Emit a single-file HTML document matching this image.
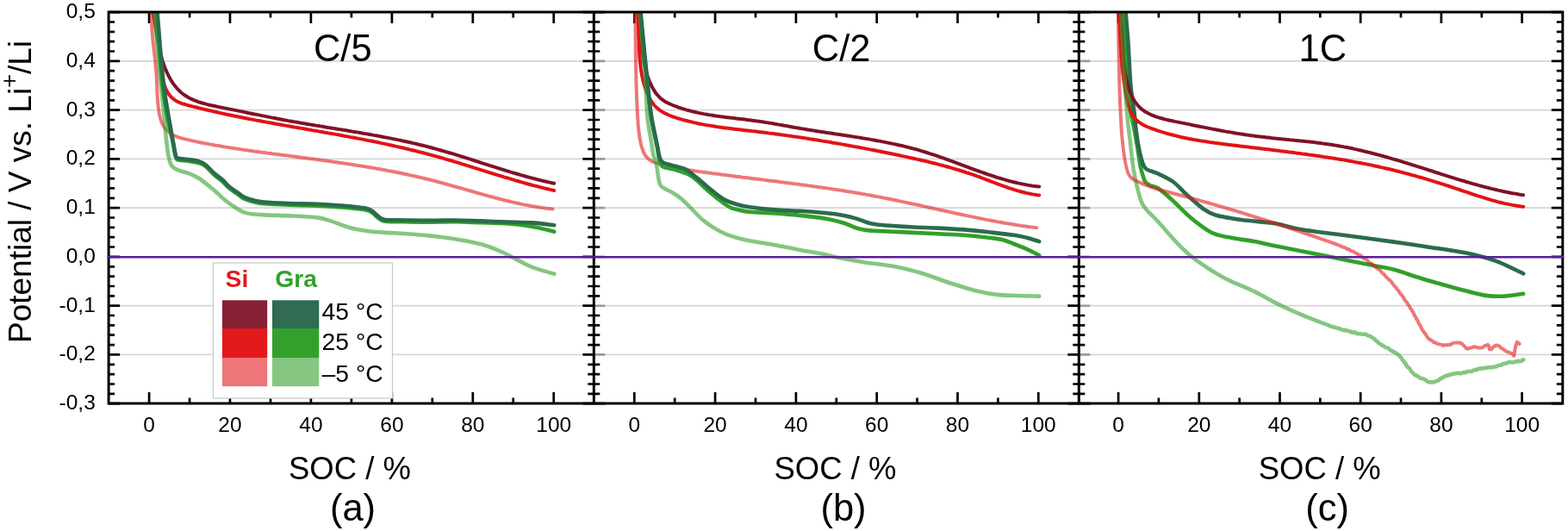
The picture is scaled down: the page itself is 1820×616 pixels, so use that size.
<!DOCTYPE html><html><head><meta charset="utf-8"><style>html,body{margin:0;padding:0;background:#fff;}svg{display:block;}text{font-family:"Liberation Sans",Arial,sans-serif;}</style></head><body>
<svg width="1820" height="616" viewBox="0 0 1820 616">
<rect width="1820" height="616" fill="#fff"/>
<path d="M126.1,70.9H1813.8M126.1,127.6H1813.8M126.1,184.4H1813.8M126.1,241.1H1813.8M126.1,354.7H1813.8M126.1,411.4H1813.8" stroke="#d6d6d6" stroke-width="1.8" fill="none"/>
<path d="M690.3,70.9h12.0M690.3,127.6h12.0M690.3,184.4h12.0M690.3,241.1h12.0M690.3,297.9h12.0M690.3,354.7h12.0M690.3,411.4h12.0M1253.3,70.9h12.0M1253.3,127.6h12.0M1253.3,184.4h12.0M1253.3,241.1h12.0M1253.3,297.9h12.0M1253.3,354.7h12.0M1253.3,411.4h12.0" stroke="#9a9a9a" stroke-width="2.6" fill="none"/>
<path d="M126.1,14.1h13.0M126.1,25.5h7.0M126.1,36.8h7.0M126.1,48.2h7.0M126.1,59.5h7.0M126.1,70.9h13.0M126.1,82.2h7.0M126.1,93.6h7.0M126.1,104.9h7.0M126.1,116.3h7.0M126.1,127.6h13.0M126.1,139.0h7.0M126.1,150.3h7.0M126.1,161.7h7.0M126.1,173.0h7.0M126.1,184.4h13.0M126.1,195.7h7.0M126.1,207.1h7.0M126.1,218.4h7.0M126.1,229.8h7.0M126.1,241.1h13.0M126.1,252.5h7.0M126.1,263.8h7.0M126.1,275.2h7.0M126.1,286.5h7.0M126.1,297.9h13.0M126.1,309.3h7.0M126.1,320.6h7.0M126.1,332.0h7.0M126.1,343.3h7.0M126.1,354.7h13.0M126.1,366.0h7.0M126.1,377.4h7.0M126.1,388.7h7.0M126.1,400.1h7.0M126.1,411.4h13.0M126.1,422.8h7.0M126.1,434.1h7.0M126.1,445.5h7.0M126.1,456.8h7.0M126.1,468.2h13.0M689.3,14.1h13.0M689.3,14.1h-13.0M689.3,25.5h7.0M689.3,25.5h-7.0M689.3,36.8h7.0M689.3,36.8h-7.0M689.3,48.2h7.0M689.3,48.2h-7.0M689.3,59.5h7.0M689.3,59.5h-7.0M689.3,70.9h-13.0M689.3,82.2h7.0M689.3,82.2h-7.0M689.3,93.6h7.0M689.3,93.6h-7.0M689.3,104.9h7.0M689.3,104.9h-7.0M689.3,116.3h7.0M689.3,116.3h-7.0M689.3,127.6h-13.0M689.3,139.0h7.0M689.3,139.0h-7.0M689.3,150.3h7.0M689.3,150.3h-7.0M689.3,161.7h7.0M689.3,161.7h-7.0M689.3,173.0h7.0M689.3,173.0h-7.0M689.3,184.4h-13.0M689.3,195.7h7.0M689.3,195.7h-7.0M689.3,207.1h7.0M689.3,207.1h-7.0M689.3,218.4h7.0M689.3,218.4h-7.0M689.3,229.8h7.0M689.3,229.8h-7.0M689.3,241.1h-13.0M689.3,252.5h7.0M689.3,252.5h-7.0M689.3,263.8h7.0M689.3,263.8h-7.0M689.3,275.2h7.0M689.3,275.2h-7.0M689.3,286.5h7.0M689.3,286.5h-7.0M689.3,297.9h-13.0M689.3,309.3h7.0M689.3,309.3h-7.0M689.3,320.6h7.0M689.3,320.6h-7.0M689.3,332.0h7.0M689.3,332.0h-7.0M689.3,343.3h7.0M689.3,343.3h-7.0M689.3,354.7h-13.0M689.3,366.0h7.0M689.3,366.0h-7.0M689.3,377.4h7.0M689.3,377.4h-7.0M689.3,388.7h7.0M689.3,388.7h-7.0M689.3,400.1h7.0M689.3,400.1h-7.0M689.3,411.4h-13.0M689.3,422.8h7.0M689.3,422.8h-7.0M689.3,434.1h7.0M689.3,434.1h-7.0M689.3,445.5h7.0M689.3,445.5h-7.0M689.3,456.8h7.0M689.3,456.8h-7.0M689.3,468.2h13.0M689.3,468.2h-13.0M1252.3,14.1h13.0M1252.3,14.1h-13.0M1252.3,25.5h7.0M1252.3,25.5h-7.0M1252.3,36.8h7.0M1252.3,36.8h-7.0M1252.3,48.2h7.0M1252.3,48.2h-7.0M1252.3,59.5h7.0M1252.3,59.5h-7.0M1252.3,70.9h-13.0M1252.3,82.2h7.0M1252.3,82.2h-7.0M1252.3,93.6h7.0M1252.3,93.6h-7.0M1252.3,104.9h7.0M1252.3,104.9h-7.0M1252.3,116.3h7.0M1252.3,116.3h-7.0M1252.3,127.6h-13.0M1252.3,139.0h7.0M1252.3,139.0h-7.0M1252.3,150.3h7.0M1252.3,150.3h-7.0M1252.3,161.7h7.0M1252.3,161.7h-7.0M1252.3,173.0h7.0M1252.3,173.0h-7.0M1252.3,184.4h-13.0M1252.3,195.7h7.0M1252.3,195.7h-7.0M1252.3,207.1h7.0M1252.3,207.1h-7.0M1252.3,218.4h7.0M1252.3,218.4h-7.0M1252.3,229.8h7.0M1252.3,229.8h-7.0M1252.3,241.1h-13.0M1252.3,252.5h7.0M1252.3,252.5h-7.0M1252.3,263.8h7.0M1252.3,263.8h-7.0M1252.3,275.2h7.0M1252.3,275.2h-7.0M1252.3,286.5h7.0M1252.3,286.5h-7.0M1252.3,297.9h-13.0M1252.3,309.3h7.0M1252.3,309.3h-7.0M1252.3,320.6h7.0M1252.3,320.6h-7.0M1252.3,332.0h7.0M1252.3,332.0h-7.0M1252.3,343.3h7.0M1252.3,343.3h-7.0M1252.3,354.7h-13.0M1252.3,366.0h7.0M1252.3,366.0h-7.0M1252.3,377.4h7.0M1252.3,377.4h-7.0M1252.3,388.7h7.0M1252.3,388.7h-7.0M1252.3,400.1h7.0M1252.3,400.1h-7.0M1252.3,411.4h-13.0M1252.3,422.8h7.0M1252.3,422.8h-7.0M1252.3,434.1h7.0M1252.3,434.1h-7.0M1252.3,445.5h7.0M1252.3,445.5h-7.0M1252.3,456.8h7.0M1252.3,456.8h-7.0M1252.3,468.2h13.0M1252.3,468.2h-13.0M1813.8,14.1h-13.0M1813.8,25.5h-7.0M1813.8,36.8h-7.0M1813.8,48.2h-7.0M1813.8,59.5h-7.0M1813.8,70.9h-13.0M1813.8,82.2h-7.0M1813.8,93.6h-7.0M1813.8,104.9h-7.0M1813.8,116.3h-7.0M1813.8,127.6h-13.0M1813.8,139.0h-7.0M1813.8,150.3h-7.0M1813.8,161.7h-7.0M1813.8,173.0h-7.0M1813.8,184.4h-13.0M1813.8,195.7h-7.0M1813.8,207.1h-7.0M1813.8,218.4h-7.0M1813.8,229.8h-7.0M1813.8,241.1h-13.0M1813.8,252.5h-7.0M1813.8,263.8h-7.0M1813.8,275.2h-7.0M1813.8,286.5h-7.0M1813.8,297.9h-13.0M1813.8,309.3h-7.0M1813.8,320.6h-7.0M1813.8,332.0h-7.0M1813.8,343.3h-7.0M1813.8,354.7h-13.0M1813.8,366.0h-7.0M1813.8,377.4h-7.0M1813.8,388.7h-7.0M1813.8,400.1h-7.0M1813.8,411.4h-13.0M1813.8,422.8h-7.0M1813.8,434.1h-7.0M1813.8,445.5h-7.0M1813.8,456.8h-7.0M1813.8,468.2h-13.0M173.1,14.1v13.0M173.1,468.1v-13.0M220.1,14.1v6.5M220.1,468.1v-6.5M267.0,14.1v13.0M267.0,468.1v-13.0M314.0,14.1v6.5M314.0,468.1v-6.5M360.9,14.1v13.0M360.9,468.1v-13.0M407.9,14.1v6.5M407.9,468.1v-6.5M454.9,14.1v13.0M454.9,468.1v-13.0M501.8,14.1v6.5M501.8,468.1v-6.5M548.8,14.1v13.0M548.8,468.1v-13.0M595.7,14.1v6.5M595.7,468.1v-6.5M642.7,14.1v13.0M642.7,468.1v-13.0M736.3,14.1v13.0M736.3,468.1v-13.0M783.2,14.1v6.5M783.2,468.1v-6.5M830.1,14.1v13.0M830.1,468.1v-13.0M877.0,14.1v6.5M877.0,468.1v-6.5M923.9,14.1v13.0M923.9,468.1v-13.0M970.8,14.1v6.5M970.8,468.1v-6.5M1017.7,14.1v13.0M1017.7,468.1v-13.0M1064.6,14.1v6.5M1064.6,468.1v-6.5M1111.5,14.1v13.0M1111.5,468.1v-13.0M1158.4,14.1v6.5M1158.4,468.1v-6.5M1205.3,14.1v13.0M1205.3,468.1v-13.0M1298.1,14.1v13.0M1298.1,468.1v-13.0M1344.9,14.1v6.5M1344.9,468.1v-6.5M1391.8,14.1v13.0M1391.8,468.1v-13.0M1438.6,14.1v6.5M1438.6,468.1v-6.5M1485.5,14.1v13.0M1485.5,468.1v-13.0M1532.3,14.1v6.5M1532.3,468.1v-6.5M1579.2,14.1v13.0M1579.2,468.1v-13.0M1626.0,14.1v6.5M1626.0,468.1v-6.5M1672.9,14.1v13.0M1672.9,468.1v-13.0M1719.8,14.1v6.5M1719.8,468.1v-6.5M1766.6,14.1v13.0M1766.6,468.1v-13.0" stroke="#000" stroke-width="2.7" fill="none"/>
<defs>
<clipPath id="c0"><rect x="126.1" y="14.1" width="563.2" height="454.0"/></clipPath>
<clipPath id="c1"><rect x="689.3" y="14.1" width="563.0" height="454.0"/></clipPath>
<clipPath id="c2"><rect x="1252.3" y="14.1" width="561.5" height="454.0"/></clipPath>
</defs>
<g clip-path="url(#c0)">
<path d="M177.5,13.2L178.0,15.5L178.4,17.9L178.8,20.3L179.2,22.7L179.6,25.1L180.0,27.6L180.4,30.0L180.8,32.5L181.2,35.0L181.6,37.5L182.0,40.0L182.4,42.5L182.8,45.0L183.3,47.5L183.7,50.0L184.2,52.6L184.7,55.1L185.3,57.6L185.8,60.1L186.4,62.6L187.1,65.1L187.8,67.6L188.5,70.0L189.3,72.5L190.1,74.9L191.0,77.4L191.9,79.8L192.9,82.1L194.0,84.5L195.1,86.8L196.2,89.1L197.5,91.3L198.7,93.4L200.1,95.6L201.5,97.6L203.0,99.6L204.5,101.5L206.2,103.3L207.9,105.0L209.6,106.7L211.4,108.2L213.3,109.7L215.3,111.0L217.3,112.3L219.4,113.5L221.6,114.6L223.8,115.6L226.1,116.6L228.4,117.4L230.7,118.3L233.1,119.0L235.5,119.8L237.9,120.4L240.4,121.1L242.9,121.7L245.4,122.3L247.9,122.8L250.4,123.3L253.0,123.9L255.5,124.4L258.0,124.9L260.6,125.4L263.1,125.9L265.6,126.4L268.1,126.9L270.6,127.4L273.1,127.9L275.6,128.4L278.1,128.9L280.6,129.4L283.0,129.9L285.5,130.4L288.0,131.0L290.5,131.5L292.9,132.0L295.4,132.5L297.9,132.9L300.3,133.4L302.8,133.9L305.2,134.4L307.7,134.9L310.2,135.4L312.6,135.9L315.1,136.4L317.5,136.8L320.0,137.3L322.4,137.8L324.9,138.2L327.4,138.7L329.8,139.2L332.3,139.6L334.7,140.1L337.2,140.5L339.7,141.0L342.1,141.4L344.6,141.8L347.1,142.3L349.6,142.7L352.0,143.1L354.5,143.5L357.0,144.0L359.5,144.4L361.9,144.8L364.4,145.2L366.9,145.6L369.4,146.0L371.9,146.4L374.4,146.8L376.9,147.3L379.3,147.7L381.8,148.1L384.3,148.5L386.8,148.9L389.3,149.3L391.8,149.7L394.3,150.1L396.8,150.5L399.3,150.9L401.8,151.3L404.3,151.7L406.7,152.1L409.2,152.6L411.7,153.0L414.2,153.4L416.7,153.8L419.2,154.2L421.7,154.7L424.2,155.1L426.7,155.5L429.2,156.0L431.6,156.4L434.1,156.9L436.6,157.3L439.1,157.8L441.6,158.2L444.1,158.7L446.5,159.2L449.0,159.6L451.5,160.1L454.0,160.6L456.4,161.1L458.9,161.6L461.4,162.1L463.9,162.6L466.3,163.1L468.8,163.7L471.3,164.2L473.7,164.8L476.2,165.3L478.6,165.9L481.1,166.4L483.5,167.0L486.0,167.6L488.4,168.2L490.9,168.8L493.3,169.4L495.8,170.0L498.2,170.7L500.6,171.3L503.1,172.0L505.5,172.6L507.9,173.3L510.3,174.0L512.8,174.7L515.2,175.4L517.6,176.1L520.0,176.8L522.4,177.5L524.8,178.2L527.2,178.9L529.6,179.7L532.0,180.4L534.4,181.2L536.9,181.9L539.3,182.7L541.7,183.4L544.1,184.2L546.4,184.9L548.8,185.7L551.2,186.5L553.6,187.2L556.0,188.0L558.4,188.8L560.8,189.6L563.2,190.3L565.6,191.1L568.0,191.9L570.4,192.6L572.8,193.4L575.2,194.1L577.6,194.9L580.0,195.7L582.4,196.4L584.8,197.1L587.2,197.9L589.6,198.6L592.0,199.4L594.5,200.1L596.9,200.8L599.3,201.5L601.7,202.2L604.1,202.9L606.5,203.6L609.0,204.3L611.4,205.0L613.8,205.6L616.2,206.3L618.7,206.9L621.1,207.5L623.5,208.2L626.0,208.8L628.4,209.4L630.9,210.0L633.3,210.5L635.8,211.1L638.3,211.6L640.7,212.2L643.2,212.7" stroke="#801228" stroke-width="4.0" fill="none" stroke-linejoin="round" stroke-linecap="round"/>
<path d="M178.0,13.0L178.5,15.6L179.0,18.2L179.4,20.8L179.9,23.3L180.3,25.8L180.7,28.3L181.1,30.7L181.5,33.2L181.8,35.6L182.2,38.0L182.5,40.5L182.9,42.9L183.2,45.3L183.5,47.7L183.8,50.1L184.1,52.5L184.4,54.9L184.7,57.4L185.0,59.8L185.2,62.3L185.5,64.7L185.8,67.2L186.1,69.7L186.4,72.3L186.7,74.8L187.0,77.4L187.4,80.1L187.7,82.7L188.1,85.4L188.5,88.1L188.9,90.7L189.4,93.4L190.0,95.9L190.7,98.5L191.6,100.9L192.5,103.2L193.6,105.5L194.8,107.6L196.2,109.6L197.7,111.4L199.3,113.1L201.1,114.7L203.0,116.1L205.0,117.4L207.2,118.5L209.4,119.4L211.8,120.3L214.2,121.0L216.6,121.7L219.1,122.3L221.5,123.0L224.0,123.6L226.4,124.2L228.9,124.8L231.3,125.4L233.8,126.0L236.2,126.6L238.7,127.2L241.2,127.8L243.6,128.3L246.1,128.9L248.6,129.5L251.0,130.0L253.5,130.6L255.9,131.1L258.4,131.6L260.9,132.2L263.3,132.7L265.8,133.2L268.3,133.7L270.7,134.2L273.2,134.7L275.7,135.2L278.1,135.7L280.6,136.2L283.1,136.7L285.6,137.2L288.0,137.7L290.5,138.2L293.0,138.6L295.5,139.1L297.9,139.6L300.4,140.0L302.9,140.5L305.4,141.0L307.8,141.4L310.3,141.9L312.8,142.3L315.3,142.8L317.7,143.2L320.2,143.7L322.7,144.1L325.2,144.5L327.7,145.0L330.1,145.4L332.6,145.9L335.1,146.3L337.6,146.7L340.1,147.2L342.5,147.6L345.0,148.0L347.5,148.5L350.0,148.9L352.5,149.3L355.0,149.8L357.4,150.2L359.9,150.6L362.4,151.1L364.9,151.5L367.4,151.9L369.9,152.4L372.4,152.8L374.8,153.2L377.3,153.7L379.8,154.1L382.3,154.6L384.8,155.0L387.3,155.4L389.7,155.9L392.2,156.3L394.7,156.8L397.2,157.2L399.7,157.7L402.1,158.1L404.6,158.6L407.1,159.1L409.6,159.5L412.1,160.0L414.5,160.5L417.0,160.9L419.5,161.4L422.0,161.9L424.4,162.4L426.9,162.9L429.4,163.3L431.9,163.8L434.3,164.3L436.8,164.8L439.3,165.3L441.7,165.9L444.2,166.4L446.7,166.9L449.1,167.4L451.6,168.0L454.1,168.5L456.5,169.0L459.0,169.6L461.4,170.1L463.9,170.7L466.3,171.2L468.8,171.8L471.2,172.4L473.7,173.0L476.1,173.6L478.6,174.2L481.0,174.8L483.5,175.4L485.9,176.0L488.4,176.6L490.8,177.2L493.2,177.9L495.7,178.5L498.1,179.1L500.5,179.8L502.9,180.5L505.4,181.1L507.8,181.8L510.2,182.5L512.6,183.2L515.1,183.9L517.5,184.6L519.9,185.3L522.3,186.0L524.7,186.7L527.1,187.5L529.5,188.2L532.0,188.9L534.4,189.6L536.8,190.4L539.2,191.1L541.6,191.9L544.0,192.6L546.4,193.4L548.8,194.1L551.2,194.8L553.6,195.6L556.0,196.3L558.4,197.1L560.8,197.8L563.2,198.6L565.6,199.3L568.0,200.1L570.4,200.8L572.8,201.6L575.2,202.3L577.7,203.1L580.1,203.8L582.5,204.5L584.9,205.3L587.3,206.0L589.7,206.7L592.1,207.4L594.5,208.1L596.9,208.9L599.3,209.6L601.8,210.3L604.2,211.0L606.6,211.6L609.0,212.3L611.4,213.0L613.9,213.7L616.3,214.3L618.7,215.0L621.2,215.6L623.6,216.2L626.0,216.9L628.5,217.5L630.9,218.1L633.4,218.7L635.8,219.3L638.2,219.9L640.7,220.4L643.1,221.0" stroke="#e31216" stroke-width="4.0" fill="none" stroke-linejoin="round" stroke-linecap="round"/>
<path d="M175.8,12.9L175.8,15.5L175.7,18.1L175.8,20.6L175.8,23.2L175.9,25.7L176.0,28.3L176.1,30.8L176.3,33.3L176.5,35.8L176.7,38.3L176.9,40.8L177.1,43.2L177.3,45.7L177.6,48.2L177.9,50.6L178.1,53.1L178.4,55.6L178.7,58.0L179.0,60.5L179.3,62.9L179.6,65.4L179.8,67.9L180.1,70.3L180.4,72.8L180.6,75.3L180.8,77.8L181.1,80.3L181.3,82.8L181.5,85.3L181.6,87.8L181.8,90.4L181.9,92.9L182.0,95.5L182.1,98.1L182.2,100.7L182.3,103.2L182.4,105.8L182.5,108.4L182.7,111.0L182.8,113.6L183.0,116.1L183.2,118.7L183.4,121.3L183.7,123.8L184.0,126.4L184.4,128.9L184.8,131.4L185.3,133.9L185.9,136.3L186.6,138.7L187.3,141.0L188.2,143.2L189.3,145.3L190.5,147.3L191.8,149.2L193.3,150.9L195.0,152.5L196.8,153.9L198.7,155.3L200.7,156.5L202.8,157.5L205.1,158.5L207.4,159.3L209.8,160.1L212.3,160.7L214.7,161.4L217.3,161.9L219.8,162.5L222.3,163.1L224.8,163.6L227.3,164.1L229.8,164.7L232.3,165.2L234.8,165.7L237.3,166.2L239.8,166.6L242.3,167.1L244.8,167.6L247.2,168.0L249.7,168.5L252.2,168.9L254.7,169.3L257.2,169.8L259.7,170.2L262.1,170.6L264.6,171.0L267.1,171.4L269.6,171.8L272.1,172.1L274.5,172.5L277.0,172.9L279.5,173.3L282.0,173.6L284.4,174.0L286.9,174.3L289.4,174.7L291.9,175.0L294.4,175.4L296.8,175.7L299.3,176.0L301.8,176.4L304.3,176.7L306.7,177.0L309.2,177.4L311.7,177.7L314.2,178.0L316.7,178.4L319.2,178.7L321.6,179.0L324.1,179.3L326.6,179.7L329.1,180.0L331.6,180.3L334.1,180.6L336.6,180.9L339.1,181.3L341.5,181.6L344.0,181.9L346.5,182.2L349.0,182.6L351.5,182.9L354.0,183.2L356.5,183.5L359.0,183.9L361.5,184.2L364.0,184.5L366.5,184.9L368.9,185.2L371.4,185.5L373.9,185.9L376.4,186.2L378.9,186.6L381.4,186.9L383.9,187.3L386.4,187.6L388.9,188.0L391.4,188.3L393.8,188.7L396.3,189.0L398.8,189.4L401.3,189.8L403.8,190.1L406.3,190.5L408.8,190.9L411.3,191.3L413.7,191.7L416.2,192.1L418.7,192.5L421.2,192.9L423.7,193.3L426.1,193.7L428.6,194.1L431.1,194.5L433.6,194.9L436.1,195.4L438.5,195.8L441.0,196.2L443.5,196.7L446.0,197.1L448.4,197.6L450.9,198.1L453.4,198.5L455.8,199.0L458.3,199.5L460.8,200.0L463.2,200.5L465.7,201.0L468.1,201.5L470.6,202.0L473.1,202.5L475.5,203.1L478.0,203.6L480.4,204.1L482.9,204.7L485.3,205.3L487.8,205.8L490.2,206.4L492.6,207.0L495.1,207.6L497.5,208.2L500.0,208.8L502.4,209.4L504.8,210.0L507.2,210.7L509.7,211.3L512.1,212.0L514.5,212.6L517.0,213.3L519.4,214.0L521.8,214.6L524.2,215.3L526.6,216.0L529.1,216.7L531.5,217.4L533.9,218.0L536.3,218.7L538.7,219.4L541.1,220.1L543.6,220.8L546.0,221.5L548.4,222.2L550.8,222.9L553.2,223.6L555.6,224.2L558.1,224.9L560.5,225.6L562.9,226.3L565.3,226.9L567.7,227.6L570.2,228.2L572.6,228.9L575.0,229.5L577.4,230.2L579.9,230.8L582.3,231.4L584.7,232.0L587.2,232.6L589.6,233.2L592.0,233.8L594.5,234.4L596.9,234.9L599.4,235.5L601.8,236.0L604.3,236.6L606.7,237.1L609.2,237.6L611.7,238.0L614.1,238.5L616.6,239.0L619.1,239.4L621.5,239.8L624.0,240.2L626.5,240.6L629.0,241.0L631.5,241.3L634.0,241.7L636.5,242.0L639.0,242.3L641.5,242.5" stroke="#e31a1c" stroke-width="4.0" fill="none" stroke-linejoin="round" stroke-linecap="round" stroke-opacity="0.60"/>
<path d="M179.6,13.0 C180.1,20.2 181.5,41.4 182.8,56.3 C184.1,71.2 185.9,89.5 187.2,102.6 C188.5,115.7 189.6,125.4 190.5,135.0 C191.4,144.6 192.1,152.8 192.8,160.0 C193.6,167.2 194.3,173.5 195.0,178.0 C195.7,182.5 196.2,184.6 197.0,187.0 C197.8,189.4 198.3,191.0 199.5,192.5 C200.7,194.0 202.2,195.0 203.9,196.0 C205.7,197.0 207.3,197.6 210.0,198.5 C212.7,199.4 216.3,200.0 219.8,201.4 C223.3,202.8 226.4,203.9 231.1,207.0 C235.8,210.1 242.5,215.6 247.7,219.9 C252.9,224.2 257.8,229.3 262.3,233.0 C266.9,236.7 271.6,239.8 275.0,242.0 C278.4,244.2 280.0,245.1 282.8,246.2 C285.6,247.2 288.1,247.8 292.0,248.3 C295.9,248.8 298.2,249.0 306.2,249.4 C314.2,249.8 329.5,250.0 340.0,250.5 C350.5,251.0 361.9,251.6 369.2,252.6 C376.5,253.6 379.0,254.9 383.9,256.4 C388.8,257.9 393.6,260.1 398.5,261.7 C403.4,263.3 407.9,264.7 413.1,265.8 C418.4,266.9 424.1,267.8 430.0,268.5 C435.9,269.2 441.8,269.4 448.7,269.9 C455.6,270.3 463.1,270.6 471.6,271.2 C480.2,271.8 490.4,272.6 500.0,273.6 C509.6,274.6 519.5,275.8 529.2,277.4 C539.0,279.0 549.7,280.9 558.5,283.3 C567.3,285.7 575.6,289.3 581.9,292.0 C588.2,294.7 590.6,296.5 596.5,299.4 C602.4,302.3 609.2,306.5 617.0,309.6 C624.8,312.7 638.9,316.4 643.3,317.8" stroke="#33a02c" stroke-width="4.6" fill="none" stroke-linejoin="round" stroke-linecap="round" stroke-opacity="0.60"/>
<path d="M181.0,13.0 C181.6,20.2 183.2,41.1 184.5,56.0 C185.8,70.9 187.2,88.6 189.0,102.6 C190.8,116.6 193.2,130.1 195.0,140.0 C196.8,149.9 198.5,154.9 200.0,162.0 C201.5,169.1 202.8,178.4 204.0,182.3 C205.2,186.2 205.1,184.8 207.5,185.6 C209.9,186.3 214.6,186.2 218.5,186.8 C222.4,187.4 227.6,188.0 231.0,189.1 C234.4,190.2 236.2,191.1 239.0,193.3 C241.8,195.5 244.8,199.4 248.0,202.3 C251.2,205.2 255.4,207.9 258.4,210.6 C261.4,213.3 262.9,215.7 266.0,218.3 C269.1,220.9 274.2,224.1 277.0,226.1 C279.8,228.1 280.0,228.9 283.0,230.3 C286.0,231.7 291.1,233.3 295.0,234.3 C298.9,235.3 299.5,235.7 306.2,236.3 C312.9,236.9 324.9,237.4 335.4,237.8 C345.9,238.2 358.4,238.1 369.2,238.6 C380.0,239.1 390.8,239.8 400.0,240.6 C409.2,241.4 418.9,242.4 424.3,243.4 C429.7,244.4 429.7,245.2 432.1,246.8 C434.6,248.4 436.7,251.2 439.0,252.8 C441.3,254.4 442.6,255.9 445.8,256.6 C449.0,257.3 454.1,257.0 458.4,257.1 C462.7,257.2 464.5,257.2 471.6,257.3 C478.7,257.4 491.2,257.6 500.8,257.6 C510.4,257.6 519.6,257.2 529.2,257.3 C538.8,257.4 548.8,257.9 558.5,258.2 C568.2,258.5 578.0,258.5 587.7,259.3 C597.5,260.1 607.7,261.2 617.0,262.8 C626.3,264.4 638.9,267.7 643.3,268.7" stroke="#31a02a" stroke-width="4.6" fill="none" stroke-linejoin="round" stroke-linecap="round"/>
<path d="M182.5,13.0 C183.1,20.2 184.7,41.1 186.0,56.0 C187.3,70.9 188.8,88.6 190.5,102.6 C192.2,116.6 194.8,130.1 196.5,140.0 C198.2,149.9 199.2,155.2 200.5,162.0 C201.8,168.8 202.8,176.9 204.0,180.5 C205.2,184.1 205.1,183.1 207.5,183.8 C209.9,184.6 214.6,184.4 218.5,185.0 C222.4,185.6 227.6,186.2 231.0,187.3 C234.4,188.4 236.2,189.3 239.0,191.5 C241.8,193.7 244.8,197.6 248.0,200.5 C251.2,203.4 255.4,206.1 258.4,208.8 C261.4,211.5 262.9,213.9 266.0,216.5 C269.1,219.1 274.2,222.3 277.0,224.3 C279.8,226.3 280.0,227.1 283.0,228.5 C286.0,229.9 291.1,231.5 295.0,232.5 C298.9,233.5 299.5,233.9 306.2,234.5 C312.9,235.1 324.9,235.6 335.4,236.0 C345.9,236.4 358.4,236.3 369.2,236.8 C380.0,237.3 390.8,238.0 400.0,238.8 C409.2,239.6 418.9,240.6 424.3,241.6 C429.7,242.6 429.7,243.4 432.1,245.0 C434.6,246.6 436.7,249.4 439.0,251.0 C441.3,252.6 442.6,254.1 445.8,254.8 C449.0,255.5 454.1,255.2 458.4,255.3 C462.7,255.4 464.5,255.4 471.6,255.5 C478.7,255.6 491.2,255.8 500.8,255.8 C510.4,255.8 519.6,255.4 529.2,255.5 C538.8,255.6 548.8,256.1 558.5,256.4 C568.2,256.7 578.0,257.2 587.7,257.5 C597.5,257.8 607.7,257.8 617.0,258.4 C626.3,259.0 638.9,260.8 643.3,261.3" stroke="#2a6c4c" stroke-width="4.6" fill="none" stroke-linejoin="round" stroke-linecap="round"/>
</g>
<g clip-path="url(#c1)">
<path d="M740.4,13.1L740.8,15.4L741.1,17.8L741.4,20.2L741.7,22.6L742.0,25.0L742.3,27.5L742.5,29.9L742.7,32.4L743.0,34.9L743.2,37.5L743.4,40.0L743.7,42.5L743.9,45.1L744.2,47.6L744.4,50.2L744.7,52.7L745.0,55.3L745.3,57.8L745.6,60.4L746.0,62.9L746.4,65.5L746.8,68.0L747.2,70.5L747.7,73.1L748.2,75.6L748.8,78.0L749.4,80.5L750.1,83.0L750.8,85.4L751.5,87.8L752.3,90.2L753.2,92.6L754.1,94.9L755.2,97.3L756.2,99.5L757.4,101.7L758.6,103.9L759.9,106.0L761.3,108.0L762.8,109.9L764.4,111.7L766.1,113.4L767.9,115.0L769.9,116.4L771.9,117.7L774.0,118.9L776.2,120.0L778.5,121.0L780.8,122.0L783.1,122.9L785.4,123.7L787.7,124.6L790.1,125.4L792.4,126.1L794.8,126.9L797.2,127.6L799.6,128.2L802.0,128.9L804.5,129.5L806.9,130.0L809.3,130.6L811.8,131.1L814.3,131.6L816.7,132.1L819.2,132.5L821.7,133.0L824.2,133.4L826.7,133.8L829.2,134.2L831.7,134.6L834.2,134.9L836.7,135.3L839.2,135.6L841.8,135.9L844.3,136.2L846.8,136.5L849.4,136.8L851.9,137.1L854.4,137.4L856.9,137.7L859.5,138.0L862.0,138.3L864.5,138.6L867.0,138.9L869.6,139.2L872.1,139.6L874.6,139.9L877.1,140.2L879.6,140.6L882.1,140.9L884.6,141.3L887.1,141.7L889.5,142.1L892.0,142.5L894.5,142.9L896.9,143.3L899.4,143.7L901.9,144.2L904.3,144.6L906.8,145.0L909.2,145.5L911.7,145.9L914.1,146.3L916.6,146.8L919.0,147.2L921.5,147.7L923.9,148.1L926.4,148.5L928.9,149.0L931.3,149.4L933.8,149.8L936.2,150.2L938.7,150.6L941.2,151.0L943.7,151.4L946.1,151.8L948.6,152.2L951.1,152.6L953.6,152.9L956.1,153.3L958.5,153.7L961.0,154.1L963.5,154.4L966.0,154.8L968.5,155.2L971.0,155.6L973.5,155.9L975.9,156.3L978.4,156.7L980.9,157.1L983.4,157.4L985.9,157.8L988.4,158.2L990.9,158.6L993.4,159.0L995.8,159.4L998.3,159.8L1000.8,160.2L1003.3,160.6L1005.8,161.0L1008.3,161.4L1010.8,161.9L1013.2,162.3L1015.7,162.7L1018.2,163.2L1020.7,163.6L1023.1,164.1L1025.6,164.6L1028.1,165.1L1030.5,165.6L1033.0,166.1L1035.5,166.6L1037.9,167.1L1040.4,167.6L1042.8,168.2L1045.3,168.7L1047.7,169.3L1050.1,169.9L1052.6,170.5L1055.0,171.1L1057.4,171.7L1059.9,172.4L1062.3,173.0L1064.7,173.7L1067.1,174.4L1069.5,175.1L1071.9,175.8L1074.3,176.5L1076.7,177.3L1079.1,178.1L1081.5,178.8L1083.9,179.6L1086.3,180.4L1088.6,181.2L1091.0,182.1L1093.4,182.9L1095.7,183.7L1098.1,184.6L1100.5,185.4L1102.8,186.3L1105.2,187.2L1107.6,188.0L1109.9,188.9L1112.3,189.8L1114.6,190.7L1117.0,191.6L1119.3,192.4L1121.7,193.3L1124.1,194.2L1126.4,195.1L1128.8,195.9L1131.1,196.8L1133.5,197.7L1135.9,198.5L1138.2,199.4L1140.6,200.2L1143.0,201.0L1145.3,201.8L1147.7,202.7L1150.1,203.4L1152.5,204.2L1154.9,205.0L1157.2,205.8L1159.6,206.5L1162.0,207.2L1164.4,207.9L1166.9,208.6L1169.3,209.3L1171.7,210.0L1174.1,210.6L1176.5,211.2L1179.0,211.8L1181.4,212.4L1183.9,212.9L1186.3,213.4L1188.8,213.9L1191.3,214.4L1193.7,214.9L1196.2,215.3L1198.7,215.7L1201.2,216.0L1203.7,216.3L1206.2,216.6" stroke="#801228" stroke-width="4.0" fill="none" stroke-linejoin="round" stroke-linecap="round"/>
<path d="M739.8,13.1L740.0,15.5L740.2,17.9L740.4,20.3L740.6,22.8L740.7,25.2L740.9,27.7L741.0,30.2L741.1,32.7L741.2,35.2L741.3,37.7L741.3,40.2L741.4,42.8L741.5,45.3L741.6,47.8L741.7,50.4L741.7,52.9L741.8,55.5L742.0,58.1L742.1,60.6L742.2,63.2L742.4,65.7L742.6,68.3L742.8,70.8L743.1,73.4L743.4,75.9L743.7,78.5L744.0,81.0L744.4,83.5L744.9,86.0L745.3,88.5L745.9,91.0L746.4,93.5L747.1,96.0L747.8,98.5L748.5,100.9L749.3,103.3L750.2,105.8L751.1,108.1L752.2,110.4L753.3,112.7L754.4,114.9L755.7,117.0L757.1,119.1L758.6,121.0L760.1,122.8L761.8,124.5L763.6,126.1L765.5,127.6L767.5,128.9L769.6,130.2L771.7,131.4L773.9,132.4L776.2,133.5L778.5,134.4L780.8,135.3L783.2,136.1L785.6,136.9L788.1,137.6L790.5,138.4L792.9,139.0L795.4,139.7L797.8,140.3L800.3,140.9L802.8,141.5L805.2,142.1L807.7,142.6L810.2,143.2L812.7,143.7L815.1,144.2L817.6,144.6L820.1,145.1L822.6,145.5L825.1,145.9L827.6,146.3L830.1,146.7L832.6,147.1L835.1,147.5L837.6,147.8L840.1,148.2L842.6,148.5L845.1,148.8L847.6,149.1L850.1,149.4L852.6,149.7L855.1,150.0L857.6,150.3L860.1,150.6L862.6,150.9L865.1,151.2L867.6,151.5L870.2,151.8L872.7,152.1L875.2,152.3L877.7,152.6L880.2,152.9L882.7,153.2L885.2,153.5L887.7,153.8L890.2,154.1L892.7,154.5L895.2,154.8L897.7,155.1L900.2,155.4L902.7,155.7L905.2,156.1L907.7,156.4L910.2,156.8L912.7,157.1L915.2,157.5L917.7,157.8L920.2,158.2L922.7,158.5L925.2,158.9L927.7,159.3L930.2,159.6L932.7,160.0L935.1,160.4L937.6,160.8L940.1,161.2L942.6,161.6L945.1,161.9L947.6,162.3L950.1,162.7L952.5,163.1L955.0,163.6L957.5,164.0L960.0,164.4L962.5,164.8L965.0,165.2L967.4,165.7L969.9,166.1L972.4,166.5L974.9,166.9L977.4,167.4L979.8,167.8L982.3,168.3L984.8,168.7L987.3,169.2L989.7,169.6L992.2,170.1L994.7,170.5L997.2,171.0L999.6,171.5L1002.1,171.9L1004.6,172.4L1007.1,172.9L1009.5,173.4L1012.0,173.8L1014.5,174.3L1016.9,174.8L1019.4,175.3L1021.9,175.8L1024.4,176.3L1026.8,176.8L1029.3,177.3L1031.8,177.8L1034.2,178.3L1036.7,178.8L1039.2,179.3L1041.6,179.8L1044.1,180.3L1046.6,180.9L1049.0,181.4L1051.5,181.9L1054.0,182.4L1056.4,183.0L1058.9,183.5L1061.3,184.0L1063.8,184.6L1066.3,185.1L1068.7,185.7L1071.2,186.3L1073.6,186.8L1076.1,187.4L1078.5,188.0L1081.0,188.6L1083.4,189.2L1085.9,189.8L1088.3,190.4L1090.7,191.1L1093.2,191.7L1095.6,192.4L1098.0,193.0L1100.5,193.7L1102.9,194.4L1105.3,195.1L1107.7,195.8L1110.1,196.5L1112.5,197.2L1114.9,198.0L1117.4,198.7L1119.7,199.5L1122.1,200.3L1124.5,201.0L1126.9,201.9L1129.3,202.7L1131.7,203.5L1134.1,204.4L1136.4,205.2L1138.8,206.1L1141.2,207.0L1143.5,207.9L1145.9,208.8L1148.2,209.7L1150.6,210.6L1153.0,211.5L1155.3,212.4L1157.7,213.3L1160.0,214.1L1162.4,215.0L1164.8,215.9L1167.2,216.7L1169.5,217.6L1171.9,218.4L1174.3,219.1L1176.7,219.9L1179.1,220.7L1181.5,221.4L1183.9,222.0L1186.4,222.7L1188.8,223.3L1191.3,223.9L1193.7,224.4L1196.2,224.9L1198.7,225.4L1201.2,225.8L1203.7,226.2L1206.2,226.5" stroke="#e31216" stroke-width="4.0" fill="none" stroke-linejoin="round" stroke-linecap="round"/>
<path d="M737.3,13.0L737.3,15.5L737.3,18.0L737.4,20.5L737.4,23.0L737.4,25.5L737.5,28.0L737.5,30.5L737.5,33.0L737.5,35.5L737.6,38.1L737.6,40.6L737.6,43.1L737.6,45.6L737.7,48.1L737.7,50.6L737.7,53.1L737.8,55.7L737.8,58.2L737.8,60.7L737.8,63.2L737.9,65.7L737.9,68.2L738.0,70.8L738.0,73.3L738.0,75.8L738.1,78.3L738.1,80.8L738.2,83.3L738.2,85.9L738.3,88.4L738.3,90.9L738.4,93.4L738.5,95.9L738.5,98.4L738.6,100.9L738.7,103.5L738.8,106.0L738.9,108.5L739.0,111.0L739.0,113.5L739.1,116.0L739.3,118.5L739.4,121.0L739.5,123.5L739.6,126.0L739.7,128.5L739.9,131.0L740.0,133.4L740.1,135.9L740.3,138.4L740.5,140.9L740.6,143.4L740.8,145.9L741.1,148.4L741.3,150.9L741.6,153.4L742.0,155.9L742.3,158.4L742.7,160.9L743.2,163.4L743.7,166.0L744.3,168.5L745.0,171.0L745.8,173.5L746.7,175.9L747.8,178.2L749.1,180.3L750.5,182.3L752.2,184.0L754.0,185.6L756.0,186.8L758.2,187.9L760.6,188.7L763.0,189.5L765.4,190.1L767.8,190.8L770.3,191.4L772.7,192.0L775.2,192.5L777.7,193.1L780.1,193.6L782.6,194.1L785.0,194.6L787.5,195.1L790.0,195.5L792.5,196.0L794.9,196.4L797.4,196.8L799.9,197.2L802.4,197.6L804.9,198.0L807.3,198.4L809.8,198.7L812.3,199.1L814.8,199.5L817.3,199.8L819.8,200.1L822.3,200.5L824.7,200.8L827.2,201.2L829.7,201.5L832.2,201.8L834.7,202.1L837.2,202.5L839.7,202.8L842.2,203.1L844.7,203.4L847.2,203.8L849.6,204.1L852.1,204.4L854.6,204.7L857.1,205.0L859.6,205.3L862.1,205.7L864.6,206.0L867.1,206.3L869.6,206.6L872.1,206.9L874.6,207.2L877.1,207.5L879.5,207.8L882.0,208.1L884.5,208.4L887.0,208.8L889.5,209.1L892.0,209.4L894.5,209.7L897.0,210.0L899.5,210.3L902.0,210.6L904.5,210.9L907.0,211.3L909.4,211.6L911.9,211.9L914.4,212.2L916.9,212.5L919.4,212.8L921.9,213.2L924.4,213.5L926.9,213.8L929.4,214.2L931.8,214.5L934.3,214.8L936.8,215.1L939.3,215.5L941.8,215.8L944.3,216.2L946.8,216.5L949.2,216.9L951.7,217.2L954.2,217.6L956.7,217.9L959.2,218.3L961.7,218.6L964.1,219.0L966.6,219.4L969.1,219.8L971.6,220.1L974.1,220.5L976.5,220.9L979.0,221.3L981.5,221.7L984.0,222.1L986.4,222.5L988.9,222.9L991.4,223.3L993.9,223.7L996.3,224.1L998.8,224.5L1001.3,225.0L1003.8,225.4L1006.2,225.9L1008.7,226.3L1011.2,226.7L1013.6,227.2L1016.1,227.7L1018.6,228.1L1021.0,228.6L1023.5,229.1L1025.9,229.6L1028.4,230.0L1030.9,230.5L1033.3,231.0L1035.8,231.5L1038.2,232.0L1040.7,232.5L1043.2,233.1L1045.6,233.6L1048.1,234.1L1050.5,234.6L1053.0,235.1L1055.4,235.7L1057.9,236.2L1060.3,236.7L1062.8,237.2L1065.3,237.8L1067.7,238.3L1070.2,238.9L1072.6,239.4L1075.1,239.9L1077.5,240.5L1080.0,241.0L1082.4,241.5L1084.9,242.1L1087.3,242.6L1089.8,243.2L1092.2,243.7L1094.7,244.2L1097.1,244.8L1099.6,245.3L1102.0,245.9L1104.5,246.4L1107.0,246.9L1109.4,247.5L1111.9,248.0L1114.3,248.5L1116.8,249.0L1119.2,249.6L1121.7,250.1L1124.1,250.6L1126.6,251.1L1129.0,251.6L1131.5,252.1L1134.0,252.6L1136.4,253.1L1138.9,253.6L1141.3,254.1L1143.8,254.6L1146.3,255.1L1148.7,255.5L1151.2,256.0L1153.7,256.5L1156.1,256.9L1158.6,257.4L1161.1,257.8L1163.5,258.2L1166.0,258.7L1168.5,259.1L1170.9,259.5L1173.4,259.9L1175.9,260.3L1178.4,260.7L1180.8,261.1L1183.3,261.5L1185.8,261.9L1188.3,262.2L1190.8,262.6L1193.2,262.9L1195.7,263.3L1198.2,263.6L1200.7,263.9L1203.2,264.2" stroke="#e31a1c" stroke-width="4.0" fill="none" stroke-linejoin="round" stroke-linecap="round" stroke-opacity="0.60"/>
<path d="M742.5,13.0 C743.2,20.8 745.3,45.5 746.5,60.0 C747.7,74.5 748.7,87.8 749.5,100.0 C750.3,112.2 750.5,125.2 751.2,133.5 C751.9,141.8 752.7,144.9 753.5,150.0 C754.3,155.1 755.1,159.3 755.9,164.3 C756.7,169.3 757.5,175.6 758.5,180.0 C759.5,184.4 761.1,186.8 762.0,191.0 C762.9,195.2 763.3,201.1 764.0,205.0 C764.7,208.9 765.0,212.0 766.3,214.3 C767.6,216.6 769.5,217.4 772.0,219.0 C774.5,220.6 777.8,221.8 781.1,223.8 C784.4,225.8 788.1,228.2 791.6,231.2 C795.1,234.2 798.3,237.8 802.2,241.7 C806.1,245.6 810.3,250.5 814.9,254.4 C819.5,258.3 824.7,261.9 829.6,264.9 C834.5,267.9 838.3,270.1 844.4,272.3 C850.5,274.6 857.1,276.4 866.2,278.4 C875.3,280.4 888.8,282.3 899.2,284.2 C909.6,286.1 918.7,288.2 928.4,290.0 C938.1,291.8 950.3,293.7 957.6,295.2 C964.9,296.7 964.9,297.4 972.2,298.8 C979.5,300.2 990.1,302.1 1001.4,303.9 C1012.7,305.7 1028.4,307.3 1040.0,309.5 C1051.6,311.7 1060.5,314.1 1070.8,317.2 C1081.1,320.3 1091.4,324.7 1101.7,328.0 C1112.0,331.3 1123.3,334.9 1132.5,337.2 C1141.7,339.5 1149.1,340.9 1157.0,341.9 C1164.9,342.9 1171.8,342.7 1180.0,343.0 C1188.2,343.3 1201.8,343.5 1206.2,343.6" stroke="#33a02c" stroke-width="4.6" fill="none" stroke-linejoin="round" stroke-linecap="round" stroke-opacity="0.60"/>
<path d="M743.0,13.0 C743.8,20.8 746.1,45.5 747.5,60.0 C748.9,74.5 750.2,87.8 751.5,100.0 C752.8,112.2 754.1,124.3 755.4,133.5 C756.7,142.7 758.2,148.6 759.5,155.0 C760.8,161.4 762.0,166.8 763.0,172.0 C764.0,177.2 764.5,182.8 765.2,186.0 C766.0,189.2 766.5,190.2 767.5,191.5 C768.5,192.8 768.2,193.1 771.0,194.0 C773.8,194.9 779.6,195.6 784.3,197.0 C788.9,198.4 794.9,200.3 798.9,202.3 C802.9,204.3 804.4,205.6 808.5,209.0 C812.6,212.4 818.0,218.0 823.3,222.5 C828.6,227.0 836.0,232.9 840.2,236.0 C844.4,239.1 845.8,239.9 848.6,241.2 C851.4,242.4 853.4,242.7 857.0,243.5 C860.6,244.3 863.0,245.2 870.0,245.8 C877.0,246.5 889.5,246.7 899.2,247.4 C908.9,248.1 918.7,248.9 928.4,249.9 C938.1,250.9 949.1,252.1 957.6,253.6 C966.1,255.1 973.4,256.9 979.5,258.7 C985.6,260.5 989.2,263.1 994.1,264.5 C999.0,265.9 1001.1,266.7 1008.7,267.4 C1016.4,268.1 1031.5,268.5 1040.0,268.9 C1048.5,269.3 1051.8,269.5 1060.0,269.9 C1068.2,270.3 1079.5,270.8 1089.2,271.3 C1099.0,271.8 1108.8,272.1 1118.5,272.8 C1128.2,273.5 1140.3,274.8 1147.7,275.7 C1155.1,276.6 1158.1,276.8 1163.0,278.0 C1167.9,279.2 1172.2,281.2 1177.0,283.0 C1181.8,284.8 1186.7,286.7 1191.6,288.9 C1196.5,291.1 1203.8,295.0 1206.2,296.2" stroke="#31a02a" stroke-width="4.6" fill="none" stroke-linejoin="round" stroke-linecap="round"/>
<path d="M743.5,13.0 C744.2,20.8 746.6,45.5 748.0,60.0 C749.4,74.5 750.7,87.8 752.0,100.0 C753.3,112.2 754.6,124.3 755.9,133.5 C757.2,142.7 758.7,148.6 760.0,155.0 C761.3,161.4 762.6,167.5 763.5,172.0 C764.4,176.5 764.7,179.4 765.5,182.0 C766.3,184.6 766.8,186.3 768.4,187.7 C770.0,189.1 772.9,189.8 775.0,190.5 C777.1,191.2 777.6,191.2 781.1,192.2 C784.6,193.2 791.3,194.3 795.9,196.6 C800.5,198.9 803.9,202.2 808.5,205.9 C813.1,209.6 818.0,214.3 823.3,218.5 C828.6,222.7 834.6,228.0 840.2,231.2 C845.8,234.4 852.0,236.0 857.0,237.5 C862.0,239.0 863.0,239.2 870.0,240.2 C877.0,241.2 889.5,242.6 899.2,243.4 C908.9,244.2 918.7,244.2 928.4,244.8 C938.1,245.4 949.1,246.2 957.6,247.0 C966.1,247.8 973.4,248.8 979.5,249.9 C985.6,251.0 989.2,252.1 994.1,253.6 C999.0,255.1 1004.4,257.5 1008.7,258.7 C1013.0,259.9 1014.8,260.2 1020.0,260.8 C1025.2,261.4 1033.3,261.9 1040.0,262.3 C1046.7,262.8 1051.8,263.1 1060.0,263.5 C1068.2,263.9 1079.5,264.1 1089.2,264.6 C1099.0,265.1 1108.8,265.6 1118.5,266.4 C1128.2,267.2 1138.0,268.2 1147.7,269.3 C1157.5,270.4 1169.7,271.7 1177.0,272.8 C1184.3,273.9 1186.7,274.5 1191.6,275.7 C1196.5,276.9 1203.8,279.4 1206.2,280.1" stroke="#2a6c4c" stroke-width="4.6" fill="none" stroke-linejoin="round" stroke-linecap="round"/>
</g>
<g clip-path="url(#c2)">
<path d="M1304.0,13.0 C1304.3,20.8 1305.2,45.5 1306.0,60.0 C1306.8,74.5 1307.9,88.3 1309.0,100.0 C1310.1,111.7 1311.2,121.7 1312.5,130.0 C1313.8,138.3 1315.2,143.3 1316.5,150.0 C1317.8,156.7 1318.8,162.7 1320.0,170.0 C1321.2,177.3 1322.7,188.1 1323.9,193.9 C1325.1,199.7 1326.0,202.1 1327.0,205.0 C1328.0,207.9 1328.2,209.7 1329.7,211.4 C1331.2,213.2 1333.6,214.3 1336.0,215.5 C1338.4,216.7 1340.3,215.8 1344.3,218.5 C1348.3,221.2 1353.7,225.8 1360.0,231.5 C1366.3,237.2 1374.7,246.4 1382.3,252.7 C1389.9,259.0 1398.4,265.7 1405.7,269.5 C1413.0,273.3 1417.9,273.6 1426.2,275.3 C1434.5,277.1 1446.4,278.4 1455.4,280.0 C1464.4,281.6 1471.3,283.4 1480.0,285.2 C1488.7,287.0 1498.2,288.8 1507.7,290.7 C1517.2,292.6 1527.2,294.6 1537.0,296.5 C1546.8,298.4 1556.5,300.4 1566.2,302.4 C1575.9,304.3 1586.4,306.4 1595.4,308.2 C1604.4,310.0 1612.6,311.2 1620.0,313.2 C1627.4,315.2 1631.2,317.2 1640.0,320.0 C1648.8,322.8 1661.5,326.4 1673.1,329.7 C1684.7,332.9 1700.7,337.3 1709.6,339.5 C1718.5,341.7 1720.6,342.4 1726.7,343.1 C1732.8,343.8 1739.3,344.0 1746.2,343.6 C1753.1,343.2 1764.4,341.2 1768.1,340.7" stroke="#31a02a" stroke-width="4.6" fill="none" stroke-linejoin="round" stroke-linecap="round"/>
<path d="M1306.5,13.0 C1307.0,19.2 1308.5,35.5 1309.5,50.0 C1310.5,64.5 1311.3,86.7 1312.5,100.0 C1313.7,113.3 1315.5,121.7 1316.5,130.0 C1317.5,138.3 1317.7,143.3 1318.5,150.0 C1319.3,156.7 1320.4,164.2 1321.5,170.0 C1322.6,175.8 1323.9,181.2 1325.0,185.0 C1326.1,188.8 1326.8,191.0 1328.0,193.0 C1329.2,195.0 1329.3,195.6 1332.0,197.0 C1334.7,198.4 1339.3,199.2 1344.3,201.5 C1349.3,203.8 1356.5,207.1 1361.9,211.0 C1367.3,214.9 1370.7,219.8 1376.5,225.0 C1382.3,230.2 1391.2,238.4 1397.0,242.5 C1402.8,246.6 1404.3,247.7 1411.6,249.8 C1418.9,251.9 1429.4,253.4 1440.8,255.0 C1452.2,256.6 1468.8,257.4 1480.0,259.2 C1491.2,261.0 1495.8,263.7 1507.7,265.8 C1519.6,267.9 1539.5,270.1 1551.6,271.7 C1563.6,273.3 1570.9,274.3 1580.0,275.5 C1589.1,276.7 1597.8,277.9 1606.0,279.0 C1614.2,280.1 1620.5,281.0 1629.2,282.3 C1638.0,283.6 1648.8,285.2 1658.5,286.7 C1668.2,288.2 1678.0,289.4 1687.7,291.1 C1697.5,292.8 1708.2,294.8 1717.0,297.0 C1725.8,299.2 1731.9,300.9 1740.4,304.3 C1748.9,307.7 1763.5,315.2 1768.1,317.4" stroke="#2a6c4c" stroke-width="4.6" fill="none" stroke-linejoin="round" stroke-linecap="round"/>
<path d="M1300.4,13.1L1300.8,15.5L1301.1,18.0L1301.3,20.4L1301.6,22.9L1301.8,25.3L1302.0,27.8L1302.1,30.3L1302.3,32.8L1302.4,35.2L1302.6,37.7L1302.7,40.2L1302.8,42.7L1302.9,45.2L1303.0,47.8L1303.1,50.3L1303.2,52.8L1303.3,55.3L1303.4,57.8L1303.5,60.4L1303.7,62.9L1303.9,65.4L1304.0,68.0L1304.2,70.5L1304.5,73.0L1304.8,75.6L1305.1,78.1L1305.4,80.6L1305.8,83.2L1306.2,85.7L1306.6,88.2L1307.1,90.8L1307.7,93.3L1308.3,95.8L1309.0,98.3L1309.7,100.8L1310.5,103.3L1311.3,105.7L1312.2,108.0L1313.2,110.4L1314.3,112.6L1315.5,114.8L1316.7,116.9L1318.0,118.9L1319.5,120.8L1321.0,122.6L1322.6,124.3L1324.3,125.9L1326.1,127.3L1328.0,128.7L1330.0,130.0L1332.1,131.1L1334.2,132.2L1336.4,133.3L1338.7,134.2L1341.0,135.1L1343.3,135.9L1345.7,136.6L1348.2,137.3L1350.6,138.0L1353.1,138.6L1355.7,139.2L1358.2,139.8L1360.8,140.3L1363.3,140.9L1365.9,141.4L1368.4,141.9L1371.0,142.4L1373.5,142.9L1376.0,143.4L1378.6,143.9L1381.1,144.4L1383.6,145.0L1386.1,145.5L1388.6,146.0L1391.1,146.5L1393.6,147.0L1396.0,147.4L1398.5,147.9L1401.0,148.4L1403.4,148.9L1405.9,149.4L1408.4,149.9L1410.8,150.3L1413.3,150.8L1415.7,151.2L1418.2,151.7L1420.6,152.1L1423.1,152.6L1425.5,153.0L1428.0,153.4L1430.4,153.8L1432.9,154.3L1435.4,154.7L1437.8,155.1L1440.3,155.4L1442.7,155.8L1445.2,156.2L1447.6,156.5L1450.1,156.9L1452.6,157.2L1455.0,157.6L1457.5,157.9L1460.0,158.2L1462.5,158.5L1465.0,158.8L1467.5,159.1L1470.0,159.4L1472.4,159.6L1474.9,159.9L1477.4,160.2L1479.9,160.4L1482.5,160.7L1485.0,160.9L1487.5,161.2L1490.0,161.4L1492.5,161.7L1495.0,161.9L1497.5,162.2L1500.0,162.4L1502.5,162.7L1505.0,162.9L1507.6,163.2L1510.1,163.4L1512.6,163.7L1515.1,164.0L1517.6,164.2L1520.1,164.5L1522.6,164.8L1525.1,165.1L1527.6,165.4L1530.1,165.7L1532.6,166.0L1535.1,166.4L1537.6,166.7L1540.1,167.1L1542.6,167.4L1545.1,167.8L1547.6,168.2L1550.0,168.6L1552.5,169.0L1555.0,169.5L1557.4,169.9L1559.9,170.4L1562.3,170.8L1564.8,171.3L1567.3,171.8L1569.7,172.3L1572.1,172.9L1574.6,173.4L1577.0,174.0L1579.5,174.5L1581.9,175.1L1584.3,175.7L1586.8,176.3L1589.2,176.9L1591.6,177.5L1594.0,178.1L1596.4,178.7L1598.9,179.4L1601.3,180.0L1603.7,180.7L1606.1,181.3L1608.5,182.0L1610.9,182.7L1613.3,183.4L1615.7,184.1L1618.1,184.8L1620.5,185.5L1622.9,186.2L1625.3,186.9L1627.7,187.6L1630.1,188.4L1632.5,189.1L1634.9,189.9L1637.3,190.6L1639.7,191.4L1642.1,192.1L1644.5,192.9L1646.9,193.6L1649.3,194.4L1651.7,195.2L1654.1,195.9L1656.5,196.7L1658.9,197.5L1661.3,198.2L1663.7,199.0L1666.1,199.8L1668.5,200.5L1670.9,201.3L1673.3,202.1L1675.7,202.8L1678.1,203.6L1680.5,204.3L1682.9,205.1L1685.3,205.8L1687.7,206.6L1690.1,207.3L1692.5,208.1L1694.9,208.8L1697.3,209.5L1699.7,210.2L1702.1,211.0L1704.5,211.7L1706.9,212.4L1709.4,213.1L1711.8,213.7L1714.2,214.4L1716.6,215.1L1719.0,215.7L1721.5,216.4L1723.9,217.0L1726.3,217.6L1728.8,218.3L1731.2,218.9L1733.6,219.4L1736.1,220.0L1738.5,220.6L1741.0,221.1L1743.4,221.7L1745.9,222.2L1748.3,222.7L1750.8,223.2L1753.2,223.7L1755.7,224.2L1758.2,224.6L1760.6,225.0L1763.1,225.5L1765.6,225.9L1768.1,226.2" stroke="#801228" stroke-width="4.0" fill="none" stroke-linejoin="round" stroke-linecap="round"/>
<path d="M1299.6,13.0L1299.6,15.6L1299.6,18.2L1299.6,20.7L1299.6,23.3L1299.7,25.8L1299.7,28.4L1299.8,30.9L1299.8,33.4L1299.9,35.9L1300.0,38.4L1300.1,40.9L1300.2,43.4L1300.3,45.9L1300.4,48.4L1300.5,50.9L1300.7,53.3L1300.8,55.8L1301.0,58.3L1301.2,60.8L1301.3,63.2L1301.5,65.7L1301.8,68.2L1302.0,70.7L1302.2,73.2L1302.4,75.6L1302.7,78.1L1303.0,80.6L1303.2,83.2L1303.5,85.7L1303.8,88.2L1304.1,90.7L1304.4,93.3L1304.8,95.8L1305.1,98.4L1305.5,101.0L1305.8,103.6L1306.2,106.2L1306.6,108.8L1307.1,111.4L1307.5,114.0L1308.1,116.5L1308.7,119.0L1309.3,121.5L1310.1,123.9L1310.9,126.3L1311.8,128.6L1312.8,130.7L1314.0,132.8L1315.3,134.8L1316.7,136.7L1318.2,138.5L1319.9,140.1L1321.8,141.6L1323.8,142.9L1325.9,144.2L1328.1,145.4L1330.3,146.5L1332.7,147.5L1335.1,148.4L1337.5,149.3L1339.9,150.2L1342.3,151.0L1344.7,151.9L1347.2,152.6L1349.6,153.4L1352.1,154.1L1354.5,154.8L1357.0,155.5L1359.4,156.2L1361.9,156.8L1364.3,157.4L1366.8,158.0L1369.2,158.6L1371.7,159.2L1374.2,159.7L1376.6,160.2L1379.1,160.7L1381.6,161.2L1384.1,161.7L1386.5,162.1L1389.0,162.5L1391.5,163.0L1394.0,163.4L1396.5,163.8L1399.0,164.1L1401.4,164.5L1403.9,164.9L1406.4,165.2L1408.9,165.6L1411.4,165.9L1413.9,166.3L1416.4,166.6L1418.9,166.9L1421.4,167.2L1423.9,167.6L1426.4,167.9L1428.9,168.2L1431.4,168.5L1433.9,168.8L1436.4,169.1L1438.9,169.4L1441.4,169.7L1443.9,170.0L1446.4,170.3L1448.9,170.6L1451.4,170.9L1453.9,171.2L1456.4,171.5L1458.9,171.8L1461.4,172.1L1463.9,172.4L1466.4,172.7L1468.9,173.0L1471.4,173.3L1473.9,173.6L1476.4,173.9L1478.9,174.2L1481.4,174.5L1483.9,174.8L1486.4,175.2L1488.9,175.5L1491.4,175.8L1493.9,176.1L1496.4,176.4L1498.9,176.7L1501.4,177.0L1503.9,177.4L1506.4,177.7L1508.9,178.0L1511.4,178.4L1513.9,178.7L1516.4,179.0L1518.9,179.4L1521.4,179.7L1523.9,180.1L1526.4,180.4L1528.9,180.8L1531.4,181.1L1533.8,181.5L1536.3,181.9L1538.8,182.2L1541.3,182.6L1543.8,183.0L1546.3,183.4L1548.8,183.8L1551.3,184.2L1553.7,184.6L1556.2,185.0L1558.7,185.4L1561.2,185.8L1563.7,186.3L1566.1,186.7L1568.6,187.1L1571.1,187.6L1573.6,188.1L1576.1,188.5L1578.5,189.0L1581.0,189.5L1583.5,189.9L1585.9,190.4L1588.4,190.9L1590.9,191.4L1593.3,191.9L1595.8,192.5L1598.3,193.0L1600.7,193.5L1603.2,194.1L1605.6,194.6L1608.1,195.2L1610.5,195.8L1613.0,196.3L1615.4,196.9L1617.9,197.5L1620.3,198.1L1622.8,198.8L1625.2,199.4L1627.7,200.0L1630.1,200.6L1632.5,201.3L1635.0,201.9L1637.4,202.6L1639.8,203.3L1642.3,203.9L1644.7,204.6L1647.1,205.3L1649.6,206.0L1652.0,206.7L1654.4,207.4L1656.8,208.2L1659.2,208.9L1661.7,209.6L1664.1,210.3L1666.5,211.1L1668.9,211.8L1671.3,212.6L1673.7,213.4L1676.1,214.1L1678.5,214.9L1680.9,215.7L1683.3,216.5L1685.7,217.3L1688.1,218.1L1690.5,218.9L1692.8,219.7L1695.2,220.5L1697.6,221.3L1700.0,222.1L1702.4,222.9L1704.8,223.7L1707.1,224.5L1709.5,225.3L1711.9,226.1L1714.3,226.9L1716.7,227.7L1719.1,228.4L1721.5,229.2L1723.9,229.9L1726.3,230.7L1728.7,231.4L1731.1,232.1L1733.5,232.8L1735.9,233.4L1738.4,234.1L1740.8,234.7L1743.2,235.3L1745.7,235.9L1748.2,236.4L1750.6,236.9L1753.1,237.4L1755.6,237.9L1758.1,238.3L1760.6,238.8L1763.1,239.1L1765.6,239.5L1768.2,239.8" stroke="#e31216" stroke-width="4.0" fill="none" stroke-linejoin="round" stroke-linecap="round"/>
<path d="M1302.0,13.0L1302.0,15.2L1302.0,17.4L1302.0,19.6L1302.1,21.8L1302.1,24.1L1302.1,26.3L1302.2,28.5L1302.3,30.7L1302.3,32.9L1302.4,35.1L1302.5,37.3L1302.5,39.5L1302.6,41.7L1302.7,43.9L1302.8,46.2L1302.9,48.4L1303.0,50.6L1303.1,52.8L1303.2,55.0L1303.3,57.2L1303.5,59.4L1303.6,61.6L1303.7,63.8L1303.8,66.0L1304.0,68.2L1304.1,70.4L1304.2,72.6L1304.4,74.8L1304.5,77.0L1304.7,79.2L1304.8,81.5L1304.9,83.7L1305.1,85.9L1305.2,88.1L1305.4,90.3L1305.5,92.5L1305.7,94.7L1305.8,96.9L1305.9,99.1L1306.1,101.3L1306.2,103.5L1306.4,105.7L1306.5,107.9L1306.6,110.1L1306.8,112.3L1306.9,114.5L1307.1,116.7L1307.2,119.0L1307.4,121.2L1307.6,123.4L1307.7,125.6L1307.9,127.8L1308.1,130.0L1308.3,132.2L1308.5,134.4L1308.7,136.6L1308.9,138.8L1309.1,141.0L1309.3,143.2L1309.6,145.4L1309.8,147.6L1310.1,149.8L1310.3,152.0L1310.6,154.1L1310.9,156.3L1311.1,158.5L1311.4,160.7L1311.7,162.9L1311.9,165.1L1312.2,167.3L1312.4,169.5L1312.7,171.7L1312.9,173.9L1313.2,176.1L1313.4,178.3L1313.6,180.5L1313.9,182.7L1314.1,184.9L1314.4,187.1L1314.7,189.3L1315.0,191.5L1315.3,193.7L1315.6,195.8L1316.0,198.0L1316.4,200.2L1316.8,202.4L1317.2,204.6L1317.6,206.7L1318.1,208.9L1318.6,211.0L1319.0,213.2L1319.5,215.3L1320.1,217.5L1320.6,219.6L1321.1,221.8L1321.7,223.9L1322.3,226.1L1322.9,228.2L1323.5,230.4L1324.3,232.5L1325.1,234.5L1326.0,236.5L1327.0,238.4L1328.3,240.2L1329.6,242.0L1331.0,243.7L1332.5,245.3L1334.1,246.9L1335.7,248.4L1337.3,250.0L1338.9,251.6L1340.4,253.2L1342.0,254.8L1343.5,256.4L1345.0,258.0L1346.5,259.7L1347.9,261.3L1349.4,263.0L1350.8,264.6L1352.3,266.3L1353.7,268.0L1355.2,269.6L1356.6,271.3L1358.1,273.0L1359.5,274.6L1361.0,276.3L1362.5,277.9L1364.0,279.5L1365.5,281.1L1367.1,282.7L1368.6,284.3L1370.2,285.9L1371.7,287.5L1373.3,289.0L1374.9,290.5L1376.6,292.0L1378.2,293.5L1379.9,295.0L1381.6,296.4L1383.3,297.8L1385.0,299.2L1386.7,300.5L1388.5,301.8L1390.3,303.1L1392.1,304.4L1393.9,305.7L1395.7,306.9L1397.6,308.2L1399.4,309.4L1401.3,310.6L1403.1,311.8L1405.0,313.0L1406.9,314.2L1408.8,315.3L1410.6,316.5L1412.5,317.6L1414.5,318.7L1416.4,319.8L1418.3,320.9L1420.2,322.0L1422.2,323.0L1424.2,324.0L1426.2,325.0L1428.1,325.9L1430.1,326.9L1432.2,327.8L1434.2,328.6L1436.2,329.5L1438.3,330.4L1440.3,331.2L1442.3,332.1L1444.4,333.0L1446.4,333.8L1448.4,334.7L1450.5,335.6L1452.5,336.5L1454.5,337.5L1456.5,338.4L1458.4,339.4L1460.4,340.4L1462.4,341.4L1464.3,342.5L1466.2,343.5L1468.2,344.6L1470.1,345.7L1472.1,346.7L1474.0,347.8L1475.9,348.8L1477.9,349.9L1479.8,350.9L1481.8,351.9L1483.8,352.9L1485.8,353.9L1487.8,354.9L1489.8,355.8L1491.8,356.8L1493.8,357.7L1495.8,358.6L1497.8,359.5L1499.8,360.4L1501.8,361.3L1503.9,362.2L1505.9,363.0L1507.9,363.9L1510.0,364.8L1512.0,365.6L1514.0,366.5L1516.1,367.3L1518.1,368.2L1520.2,369.0L1522.2,369.8L1524.3,370.6L1526.3,371.4L1528.4,372.2L1530.5,373.0L1532.5,373.8L1534.6,374.6L1536.7,375.4L1538.8,376.1L1540.8,376.8L1542.9,377.7L1545.0,378.9L1547.1,379.0L1549.2,379.7L1551.3,380.5L1553.4,380.7L1555.5,381.7L1557.6,382.4L1559.8,383.2L1561.9,382.9L1564.0,383.7L1566.2,384.0L1568.3,385.3L1570.5,385.7L1572.7,385.3L1574.9,386.9L1577.1,387.2L1579.3,387.3L1581.5,387.7L1583.7,387.6L1585.8,388.0L1587.9,389.4L1589.8,389.7L1591.7,390.9L1593.6,392.1L1595.4,393.2L1597.1,395.1L1598.9,396.4L1600.6,398.3L1602.4,399.2L1604.3,400.6L1606.2,401.6L1608.1,402.9L1610.1,403.6L1612.1,404.4L1614.1,406.3L1616.0,407.3L1617.9,408.2L1619.7,409.3L1621.4,410.2L1623.0,411.5L1624.6,413.2L1626.1,414.5L1627.5,417.1L1628.9,418.4L1630.3,420.7L1631.6,422.0L1632.9,424.6L1634.3,426.2L1635.7,427.0L1637.1,429.0L1638.6,431.5L1640.1,432.6L1641.7,434.7L1643.4,435.3L1645.2,436.1L1647.1,437.8L1649.0,438.9L1651.1,439.2L1653.2,439.9L1655.3,441.2L1657.5,442.9L1659.7,443.4L1661.8,443.2L1663.9,443.4L1665.9,442.8L1667.8,441.8L1669.7,441.5L1671.6,439.4L1673.6,438.6L1675.5,437.4L1677.6,436.2L1679.6,436.0L1681.8,434.7L1683.9,434.7L1686.1,433.6L1688.2,433.6L1690.4,433.0L1692.6,432.7L1694.8,433.2L1697.0,432.7L1699.2,431.8L1701.4,432.2L1703.5,431.0L1705.7,430.7L1707.8,430.8L1710.0,429.9L1712.1,428.7L1714.2,429.2L1716.4,427.7L1718.6,427.3L1720.8,427.7L1723.0,426.9L1725.2,426.7L1727.4,426.2L1729.6,426.0L1731.8,426.3L1733.9,425.5L1736.1,425.4L1738.2,424.4L1740.2,423.7L1742.3,423.5L1744.4,422.2L1746.5,421.6L1748.6,421.5L1750.8,420.3L1753.0,419.9L1755.2,420.6L1757.4,420.2L1759.6,419.3L1761.8,418.9L1764.0,419.1L1766.1,418.8L1768.2,417.1" stroke="#33a02c" stroke-width="4.6" fill="none" stroke-linejoin="round" stroke-linecap="round" stroke-opacity="0.60"/>
<path d="M1297.8,13.0L1297.8,15.0L1297.9,17.0L1297.9,19.0L1297.9,21.0L1298.0,23.0L1298.0,25.0L1298.0,27.0L1298.0,29.0L1298.1,31.0L1298.1,33.0L1298.1,35.0L1298.2,37.0L1298.2,39.0L1298.2,41.0L1298.3,43.0L1298.3,45.0L1298.3,47.0L1298.4,49.1L1298.4,51.1L1298.4,53.1L1298.4,55.1L1298.5,57.1L1298.5,59.1L1298.6,61.1L1298.6,63.1L1298.6,65.2L1298.7,67.2L1298.7,69.2L1298.7,71.2L1298.8,73.2L1298.8,75.2L1298.9,77.2L1298.9,79.3L1298.9,81.3L1299.0,83.3L1299.0,85.3L1299.1,87.3L1299.1,89.3L1299.2,91.3L1299.2,93.4L1299.3,95.4L1299.4,97.4L1299.4,99.4L1299.5,101.4L1299.5,103.4L1299.6,105.4L1299.7,107.4L1299.7,109.4L1299.8,111.4L1299.9,113.5L1300.0,115.5L1300.0,117.5L1300.1,119.5L1300.2,121.5L1300.3,123.5L1300.4,125.5L1300.5,127.5L1300.6,129.5L1300.6,131.5L1300.7,133.5L1300.8,135.5L1301.0,137.5L1301.1,139.5L1301.2,141.5L1301.3,143.5L1301.4,145.4L1301.5,147.4L1301.6,149.4L1301.8,151.4L1301.9,153.4L1302.1,155.4L1302.2,157.4L1302.4,159.4L1302.6,161.4L1302.8,163.3L1303.0,165.3L1303.2,167.3L1303.4,169.3L1303.6,171.3L1303.9,173.3L1304.1,175.3L1304.4,177.3L1304.7,179.3L1305.0,181.3L1305.3,183.3L1305.7,185.4L1306.0,187.4L1306.4,189.4L1306.8,191.4L1307.3,193.4L1307.7,195.5L1308.3,197.4L1308.9,199.4L1309.6,201.2L1310.5,202.9L1311.5,204.5L1312.8,206.0L1314.2,207.2L1315.9,208.3L1317.7,209.3L1319.5,210.2L1321.4,211.1L1323.2,211.9L1325.1,212.7L1326.9,213.5L1328.8,214.3L1330.7,215.0L1332.6,215.7L1334.4,216.4L1336.3,217.1L1338.2,217.7L1340.2,218.3L1342.1,219.0L1344.0,219.5L1345.9,220.1L1347.8,220.7L1349.8,221.2L1351.7,221.8L1353.6,222.3L1355.6,222.8L1357.5,223.3L1359.5,223.8L1361.4,224.3L1363.3,224.8L1365.3,225.3L1367.2,225.8L1369.2,226.3L1371.1,226.8L1373.0,227.3L1375.0,227.8L1376.9,228.4L1378.9,228.9L1380.8,229.4L1382.7,229.9L1384.7,230.4L1386.6,231.0L1388.5,231.5L1390.5,232.0L1392.4,232.6L1394.4,233.1L1396.3,233.6L1398.2,234.2L1400.2,234.7L1402.1,235.3L1404.0,235.8L1405.9,236.4L1407.9,236.9L1409.8,237.5L1411.7,238.0L1413.7,238.6L1415.6,239.1L1417.5,239.7L1419.4,240.3L1421.4,240.8L1423.3,241.4L1425.2,242.0L1427.1,242.5L1429.1,243.1L1431.0,243.7L1432.9,244.3L1434.8,244.8L1436.8,245.4L1438.7,246.0L1440.6,246.6L1442.5,247.2L1444.4,247.8L1446.4,248.4L1448.3,249.0L1450.2,249.6L1452.1,250.2L1454.0,250.8L1455.9,251.4L1457.9,252.0L1459.8,252.6L1461.7,253.2L1463.6,253.8L1465.5,254.4L1467.4,255.0L1469.3,255.6L1471.3,256.2L1473.2,256.8L1475.1,257.5L1477.0,258.1L1478.9,258.7L1480.8,259.3L1482.7,259.9L1484.6,260.6L1486.5,261.2L1488.4,261.8L1490.4,262.5L1492.3,263.1L1494.2,263.7L1496.1,264.3L1498.0,265.0L1499.9,265.6L1501.8,266.3L1503.7,266.9L1505.6,267.5L1507.5,268.2L1509.4,268.8L1511.3,269.5L1513.2,270.1L1515.1,270.8L1517.0,271.4L1518.9,272.0L1520.8,272.7L1522.7,273.3L1524.6,274.0L1526.5,274.7L1528.4,275.3L1530.3,276.0L1532.2,276.6L1534.1,277.3L1536.0,277.9L1537.9,278.6L1539.8,279.3L1541.6,279.9L1543.5,280.6L1545.4,281.3L1547.3,282.0L1549.2,282.7L1551.0,283.4L1552.9,284.2L1554.7,284.9L1556.6,285.7L1558.4,286.5L1560.3,287.0L1562.1,287.6L1563.9,289.1L1565.7,289.1L1567.5,290.6L1569.3,291.3L1571.1,291.8L1572.8,293.4L1574.6,293.7L1576.3,295.2L1578.0,295.7L1579.7,296.8L1581.4,298.3L1583.1,300.0L1584.8,300.1L1586.4,301.4L1588.1,303.2L1589.7,304.8L1591.3,305.5L1592.9,306.5L1594.5,308.6L1596.0,308.6L1597.6,311.0L1599.1,311.5L1600.6,312.7L1602.1,314.0L1603.6,315.6L1605.1,317.7L1606.5,318.2L1607.9,320.2L1609.3,321.7L1610.7,322.8L1612.1,324.5L1613.5,325.3L1614.8,326.8L1616.1,328.5L1617.4,330.6L1618.7,331.8L1620.0,333.1L1621.2,335.1L1622.5,336.4L1623.7,337.8L1624.9,340.0L1626.1,341.5L1627.2,342.4L1628.4,344.5L1629.5,346.0L1630.7,348.2L1631.8,349.6L1632.9,350.6L1634.0,353.3L1635.1,353.7L1636.1,355.8L1637.2,358.0L1638.2,358.9L1639.2,361.1L1640.3,362.2L1641.3,364.8L1642.3,366.7L1643.3,368.2L1644.2,370.4L1645.2,371.4L1646.2,373.8L1647.1,375.5L1648.1,377.3L1649.1,378.9L1650.1,381.2L1651.1,383.1L1652.2,384.2L1653.3,386.2L1654.4,387.0L1655.6,389.5L1656.9,390.9L1658.2,392.8L1659.6,394.0L1661.1,394.5L1662.7,395.8L1664.3,397.3L1666.1,397.3L1667.9,398.8L1669.7,399.1L1671.6,399.5L1673.5,399.8L1675.5,401.0L1677.5,400.2L1679.5,400.2L1681.5,400.0L1683.5,400.1L1685.5,398.3L1687.4,398.0L1689.3,397.6L1691.2,397.6L1693.0,397.5L1694.8,398.1L1696.5,398.3L1698.1,400.0L1699.8,401.6L1701.5,403.7L1703.3,404.7L1705.2,403.9L1707.1,403.7L1709.0,403.0L1710.9,402.2L1712.8,402.4L1714.7,403.2L1716.5,403.6L1718.3,403.6L1720.1,403.6L1721.9,402.3L1723.7,401.2L1725.5,400.5L1727.1,399.9L1728.0,401.0L1728.5,403.2L1729.0,405.2L1729.7,405.1L1730.9,405.4L1732.4,403.6L1734.1,402.1L1735.7,401.0L1737.4,400.4L1739.0,401.0L1740.7,401.7L1742.4,403.9L1744.2,404.6L1746.0,406.0L1748.0,407.4L1750.1,408.2L1752.0,409.2L1753.7,409.5L1755.1,410.2L1756.0,411.2L1756.6,411.8L1757.0,412.6L1757.2,412.1L1757.4,412.7L1757.7,410.9L1758.0,408.0L1758.6,404.7L1759.6,400.2L1761.0,396.6L1763.6,399.0" stroke="#e31a1c" stroke-width="4.0" fill="none" stroke-linejoin="round" stroke-linecap="round" stroke-opacity="0.60"/>
</g>
<path d="M126.1,14.1V468.1M689.3,14.1V468.1M1252.3,14.1V468.1M1813.8,14.1V468.1M124.6,14.1H1815.3M124.6,468.1H1815.3" stroke="#000" stroke-width="3" fill="none"/>
<path d="M124.8,298.2H1815.3" stroke="#591e93" stroke-width="2.6"/>
<text x="110.8" y="21.1" font-size="24.5" text-anchor="end">0,5</text>
<text x="110.8" y="77.9" font-size="24.5" text-anchor="end">0,4</text>
<text x="110.8" y="134.6" font-size="24.5" text-anchor="end">0,3</text>
<text x="110.8" y="191.4" font-size="24.5" text-anchor="end">0,2</text>
<text x="110.8" y="248.1" font-size="24.5" text-anchor="end">0,1</text>
<text x="110.8" y="304.9" font-size="24.5" text-anchor="end">0,0</text>
<text x="110.8" y="361.7" font-size="24.5" text-anchor="end">-0,1</text>
<text x="110.8" y="418.4" font-size="24.5" text-anchor="end">-0,2</text>
<text x="110.8" y="475.2" font-size="24.5" text-anchor="end">-0,3</text>
<text x="173.1" y="501" font-size="24.5" text-anchor="middle">0</text>
<text x="267.0" y="501" font-size="24.5" text-anchor="middle">20</text>
<text x="360.9" y="501" font-size="24.5" text-anchor="middle">40</text>
<text x="454.9" y="501" font-size="24.5" text-anchor="middle">60</text>
<text x="548.8" y="501" font-size="24.5" text-anchor="middle">80</text>
<text x="642.7" y="501" font-size="24.5" text-anchor="middle">100</text>
<text x="406.0" y="556.4" font-size="36.5" text-anchor="middle">SOC / %</text>
<text x="409.5" y="603.6" font-size="43.5" text-anchor="middle">(a)</text>
<text x="397.8" y="71.3" font-size="43.5" text-anchor="middle">C/5</text>
<text x="736.3" y="501" font-size="24.5" text-anchor="middle">0</text>
<text x="830.1" y="501" font-size="24.5" text-anchor="middle">20</text>
<text x="923.9" y="501" font-size="24.5" text-anchor="middle">40</text>
<text x="1017.7" y="501" font-size="24.5" text-anchor="middle">60</text>
<text x="1111.5" y="501" font-size="24.5" text-anchor="middle">80</text>
<text x="1205.3" y="501" font-size="24.5" text-anchor="middle">100</text>
<text x="969.5" y="556.4" font-size="36.5" text-anchor="middle">SOC / %</text>
<text x="979.0" y="603.6" font-size="43.5" text-anchor="middle">(b)</text>
<text x="976.7" y="71.3" font-size="43.5" text-anchor="middle">C/2</text>
<text x="1298.1" y="501" font-size="24.5" text-anchor="middle">0</text>
<text x="1391.8" y="501" font-size="24.5" text-anchor="middle">20</text>
<text x="1485.5" y="501" font-size="24.5" text-anchor="middle">40</text>
<text x="1579.2" y="501" font-size="24.5" text-anchor="middle">60</text>
<text x="1672.9" y="501" font-size="24.5" text-anchor="middle">80</text>
<text x="1766.6" y="501" font-size="24.5" text-anchor="middle">100</text>
<text x="1531.7" y="556.4" font-size="36.5" text-anchor="middle">SOC / %</text>
<text x="1540.7" y="603.6" font-size="43.5" text-anchor="middle">(c)</text>
<text x="1535.4" y="71.3" font-size="43.5" text-anchor="middle">1C</text>
<text transform="translate(35.6,398) rotate(-90)" font-size="37">Potential / V vs. Li<tspan dy="-15.5" font-size="27">+</tspan><tspan dy="15.5">/Li</tspan></text>
<rect x="247.5" y="305" width="208" height="157" fill="#fff" stroke="#c8c8c8" stroke-width="1.2"/>
<text x="261.6" y="332.8" font-size="28.3" font-weight="bold" fill="#e31a1c">Si</text>
<text x="319.2" y="332.8" font-size="28.3" font-weight="bold" fill="#33a02c">Gra</text>
<rect x="258" y="348.3" width="52.2" height="32.7" fill="#862135"/>
<rect x="316" y="348.3" width="54.3" height="32.7" fill="#2f6c52"/>
<rect x="258" y="381.0" width="52.2" height="34.0" fill="#e31a1c"/>
<rect x="316" y="381.0" width="54.3" height="34.0" fill="#33a02c"/>
<rect x="258" y="415.0" width="52.2" height="33.2" fill="#ee7677"/>
<rect x="316" y="415.0" width="54.3" height="33.2" fill="#85c680"/>
<text x="373.6" y="371.0" font-size="28.3">45 °C</text>
<text x="373.6" y="406.3" font-size="28.3">25 °C</text>
<text x="373.6" y="442.8" font-size="28.3">–5 °C</text>
</svg></body></html>
